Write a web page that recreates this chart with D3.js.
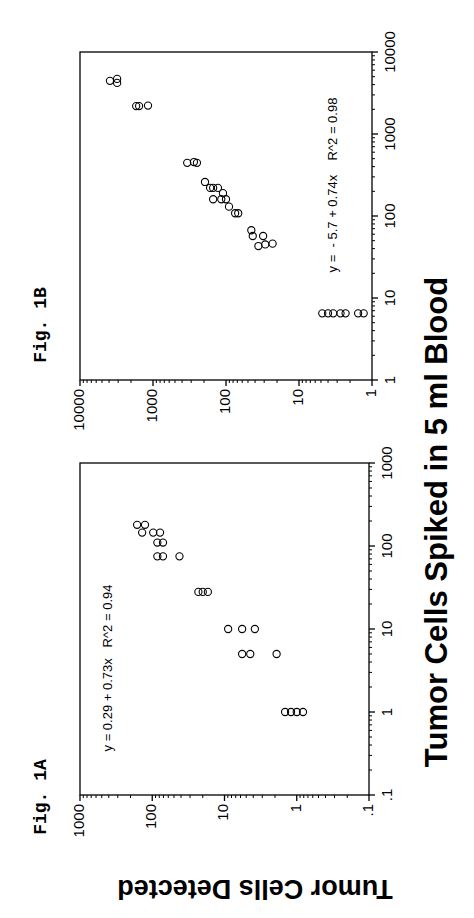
<!DOCTYPE html>
<html><head><meta charset="utf-8">
<script src="https://cdn.jsdelivr.net/npm/d3@7"></script>
<style>body{margin:0;background:#fff}</style></head>
<body><svg id="c" width="474" height="918"></svg>
<script>
// Fig 1A data: spiked (x) vs detected (y)
const spikedA  = [180,180,145, 145,145, 110,110, 75,75,75, 28,28,28, 10,10,10, 5,5,5, 1,1,1,1];
const detectA  = [162,126,138, 97,78, 85,71, 85,71,42, 23,20,17, 8.9,5.7,3.8, 5.7,4.4,1.9, 1.45,1.2,1.0,0.82];
// Fig 1B data
const spikedB  = [4450,4700,4200, 2190,2190,2220, 445,455,445, 260,220,220,220,190, 160,160,160,130,108,108, 67,57,57,43,45,46, 6.5,6.5,6.5,6.5,6.5,6.5,6.5];
const detectB  = [3890,3100,3100, 1700,1550,1170, 340,275,250, 194,165,150,129,110, 150,116,100,91,75,68, 45,43,31,36,29,23, 4.8,4.0,3.4,2.7,2.3,1.55,1.3];
const ticksA = [0.1,1,10,100,1000];
const tickLabelsA = [".1","1","10","100","1000"];
const ticksB = [1,10,100,1000,10000];
const tickLabelsB = ["1","10","100","1000","10000"];

const svg = d3.select("#c");
const sans = "Liberation Sans, Arial, sans-serif";

function panel(o){
  const xs = d3.scaleLog().domain(o.domain).range([o.x1, o.x0]);
  const ys = d3.scaleLog().domain(o.domain).range([o.y1, o.y0]);
  const g = svg.append("g");
  g.append("rect").attr("x",o.x0).attr("y",o.y0).attr("width",o.x1-o.x0).attr("height",o.y1-o.y0)
    .attr("fill","none").attr("stroke","#000").attr("stroke-width",1.3);
  const [lo,hi] = o.domain;
  const minor=[];
  for(let d=lo; d<hi; d*=10) for(let k=2;k<10;k++) minor.push(d*k);
  g.selectAll(".mb").data(minor).join("line").attr("x1",d=>xs(d)).attr("x2",d=>xs(d))
    .attr("y1",o.y1).attr("y2",o.y1+3).attr("stroke","#000");
  g.selectAll(".Mb").data(o.ticks).join("line").attr("x1",d=>xs(d)).attr("x2",d=>xs(d))
    .attr("y1",o.y1).attr("y2",o.y1+6).attr("stroke","#000").attr("stroke-width",1.3);
  g.selectAll(".mr").data(minor).join("line").attr("y1",d=>ys(d)).attr("y2",d=>ys(d))
    .attr("x1",o.x1).attr("x2",o.x1+3).attr("stroke","#000");
  g.selectAll(".Mr").data(o.ticks).join("line").attr("y1",d=>ys(d)).attr("y2",d=>ys(d))
    .attr("x1",o.x1).attr("x2",o.x1+6).attr("stroke","#000").attr("stroke-width",1.3);
  g.selectAll(".lb").data(o.ticks).join("text")
    .attr("transform",d=>`translate(${xs(d)},${o.y1+9}) rotate(-90)`)
    .attr("text-anchor","end").attr("dominant-baseline","middle")
    .attr("font-family",sans).attr("font-size",15).text((d,i)=>o.labels[i]);
  g.selectAll(".lr").data(o.ticks).join("text")
    .attr("transform",d=>`translate(${o.x1+23},${ys(d)}) rotate(-90)`)
    .attr("text-anchor","middle")
    .attr("font-family",sans).attr("font-size",15).text((d,i)=>o.labels[i]);
  g.selectAll("circle").data(o.sp).join("circle")
    .attr("cx",(d,i)=>xs(o.dt[i])).attr("cy",d=>ys(d)).attr("r",3.6)
    .attr("fill","none").attr("stroke","#000").attr("stroke-width",1.1);
  g.append("text").attr("transform",`translate(${o.eqx},${o.eqy}) rotate(-90)`)
    .attr("text-anchor","middle").attr("font-family",sans).attr("font-size",13)
    .attr("xml:space","preserve").text(o.eq);
  g.append("text").attr("transform",`translate(${o.fx},${o.fy}) rotate(-90)`)
    .attr("text-anchor","middle").attr("font-family","Liberation Mono, Courier New, monospace")
    .attr("font-size",18).attr("font-weight","bold").attr("xml:space","preserve").text(o.fig);
}

panel({domain:[0.1,1000],ticks:ticksA,labels:tickLabelsA,x0:80,x1:369,y0:463,y1:795,
  sp:spikedA,dt:detectA,eq:"y = 0.29 + 0.73x   R^2 = 0.94",eqx:112,eqy:668,fig:"Fig. 1A",fx:46,fy:797});
panel({domain:[1,10000],ticks:ticksB,labels:tickLabelsB,x0:80,x1:372,y0:52,y1:380,
  sp:spikedB,dt:detectB,eq:"y =  - 5.7 + 0.74x    R^2 = 0.98",eqx:337,eqy:185,fig:"Fig. 1B",fx:46,fy:325});

svg.append("text").attr("transform","translate(447,522) rotate(-90)").attr("text-anchor","middle")
  .attr("font-family",sans).attr("font-weight","bold").attr("font-size",31).text("Tumor Cells Spiked in 5 ml Blood");
svg.append("text").attr("transform","translate(255,880) rotate(180)").attr("text-anchor","middle")
  .attr("font-family",sans).attr("font-weight","bold").attr("font-size",27)
  .text("Tumor Cells Detected");
</script></body></html>
